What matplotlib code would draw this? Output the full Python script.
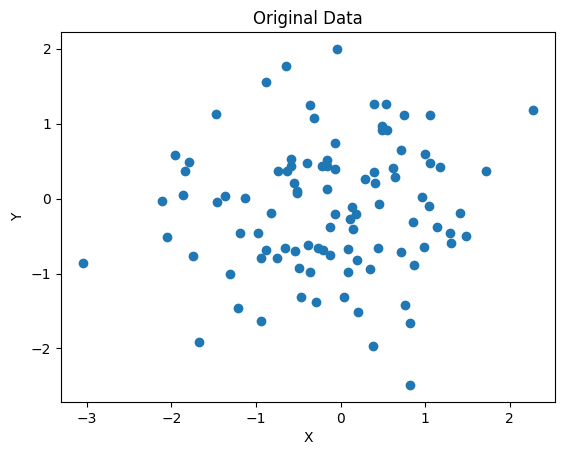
import matplotlib
matplotlib.use('Agg')
import matplotlib.pyplot as plt
import numpy as np

# points
x = [-1.47, -1.96, -1.79, -1.84, -2.11, -1.86, -1.46, -1.37, -0.04, -0.65,
     -0.88, -0.36, -0.31, 0.39, 0.54, 0.49, 0.49, 0.55, -0.07, -0.59,
     -0.59, -0.74, -0.63, -0.40, -0.16, -0.22, -0.16, -0.06, -0.55, -0.52,
     -0.52, -0.16, 0.29, 0.40, 0.41, 0.45, -1.13, -0.82, -0.06, 0.13,
     0.18, 0.11, 0.75, 1.06, 2.27, 0.71, 1.00, 1.06, 1.18, 0.62,
     0.64, 1.72, 0.96, 1.05, 1.41, 0.86, -2.05, -3.04, -1.75, -1.31,
     -1.67, -0.13, 0.15, -1.19, -0.98, -0.88, -0.94, -0.75, -0.66, -0.54,
     -0.39, -0.27, -0.21, -0.12, 0.09, 0.44, 0.20, 0.35, 0.09, -0.49,
     -0.36, -0.47, -0.29, 0.04, -1.21, -0.94, 0.21, 0.38, 1.14, 1.29,
     1.48, 1.31, 0.71, 0.99, 0.87, 0.76, 0.82, 0.82]
y = [1.13, 0.58, 0.49, 0.37, -0.03, 0.05, -0.05, 0.04, 2.00, 1.77,
     1.56, 1.25, 1.08, 1.26, 1.26, 0.97, 0.92, 0.92, 0.74, 0.53,
     0.44, 0.37, 0.37, 0.47, 0.51, 0.43, 0.43, 0.40, 0.21, 0.10,
     0.07, 0.13, 0.26, 0.36, 0.21, -0.07, 0.01, -0.19, -0.20, -0.11,
     -0.20, -0.27, 1.12, 1.12, 1.18, 0.65, 0.60, 0.48, 0.42, 0.41,
     0.29, 0.37, 0.02, -0.10, -0.19, -0.31, -0.51, -0.86, -0.77, -1.01,
     -1.91, -0.38, -0.40, -0.46, -0.46, -0.68, -0.79, -0.79, -0.66, -0.70,
     -0.62, -0.66, -0.68, -0.75, -0.67, -0.66, -0.82, -0.94, -0.98, -0.93,
     -0.98, -1.31, -1.38, -1.31, -1.46, -1.63, -1.51, -1.97, -0.38, -0.46,
     -0.50, -0.59, -0.71, -0.64, -0.89, -1.42, -1.66, -2.49]

fig = plt.figure(figsize=(5.65, 4.55), dpi=100)
ax = fig.add_axes([61 / 565, 53 / 455, 494 / 565, 370 / 455])
ax.scatter(x, y)
ax.set_title('Original Data')
ax.set_xlabel('X')
ax.set_ylabel('Y')

fig.savefig('out.png', dpi=100)
